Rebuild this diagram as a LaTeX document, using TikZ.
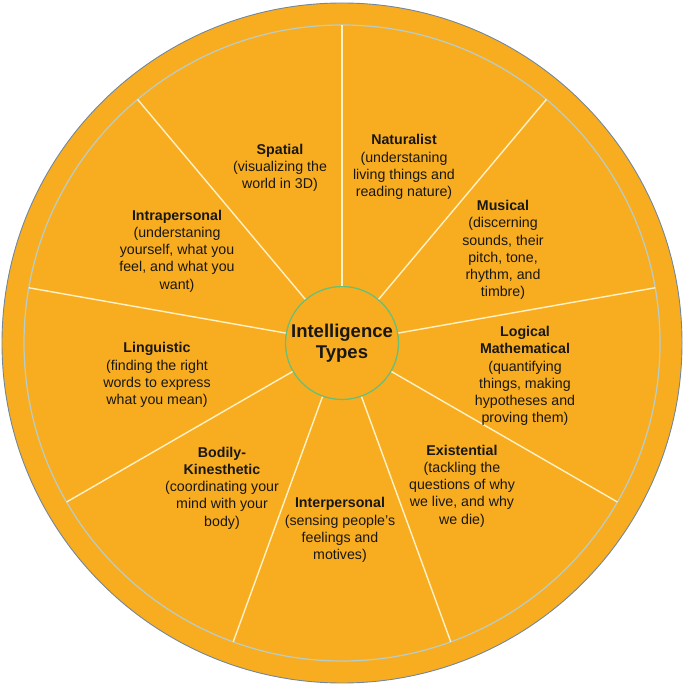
\documentclass[tikz,border=0pt]{standalone}
\usepackage{fontspec}
\setmainfont{Liberation Sans}
\definecolor{wheel}{RGB}{248,173,32}
\definecolor{divider}{RGB}{255,241,200}
\definecolor{ringc}{RGB}{185,205,200}
\definecolor{rimc}{RGB}{115,135,155}
\definecolor{hubc}{RGB}{105,190,120}
\definecolor{txt}{RGB}{25,23,20}
\tikzset{
  lbl/.style={align=center, text=txt, inner sep=0pt, font=\fontsize{14.2}{17.2}\selectfont},
  hub/.style={circle, draw=hubc, line width=1.3pt, fill=wheel, minimum size=113pt, inner sep=0pt,
     align=center, text=txt, font=\bfseries\fontsize{18.5}{20.5}\selectfont},
  dividerline/.style={draw=divider, line width=1.4pt}
}
\begin{document}
\begin{tikzpicture}[x=1pt,y=1pt]
\useasboundingbox (0,0) rectangle (685,686);
\coordinate (o) at (342,343);
\fill[wheel] (o) circle (340);
\draw[rimc, line width=0.9pt] (o) circle (340);
\draw[ringc, line width=1.2pt] (o) circle (318);
\node[hub] (c) at (o) {Intelligence\\Types};
\foreach \a in {90,130,170,210,250,290,330,10,50}{
  \coordinate (e\a) at ([shift={(\a:318)}]o);
  \draw[dividerline] (c.\a) -- (e\a);
}
\node[lbl] (spatial) at (280,518) {\textbf{Spatial}\\(visualizing the\\world in 3D)};
\node[lbl] (naturalist) at (404,519) {\textbf{Naturalist}\\(understaning\\living things and\\reading nature)};
\node[lbl] (musical) at (503,436) {\textbf{Musical}\\(discerning\\sounds, their\\pitch, tone,\\rhythm, and\\timbre)};
\node[lbl] (intra) at (177,435) {\textbf{Intrapersonal}\\(understaning\\yourself, what you\\feel, and what you\\want)};
\node[lbl] (ling) at (157,311) {\textbf{Linguistic}\\(finding the right\\words to express\\what you mean)};
\node[lbl] (logical) at (525,310) {\textbf{Logical}\\\textbf{Mathematical}\\(quantifying\\things, making\\hypotheses and\\proving them)};
\node[lbl] (bodily) at (222,198) {\textbf{Bodily-}\\\textbf{Kinesthetic}\\(coordinating your\\mind with your\\body)};
\node[lbl] (exist) at (462,200) {\textbf{Existential}\\(tackling the\\questions of why\\we live, and why\\we die)};
\node[lbl] (inter) at (340,156) {\textbf{Interpersonal}\\(sensing people’s\\feelings and\\motives)};
\end{tikzpicture}
\end{document}
